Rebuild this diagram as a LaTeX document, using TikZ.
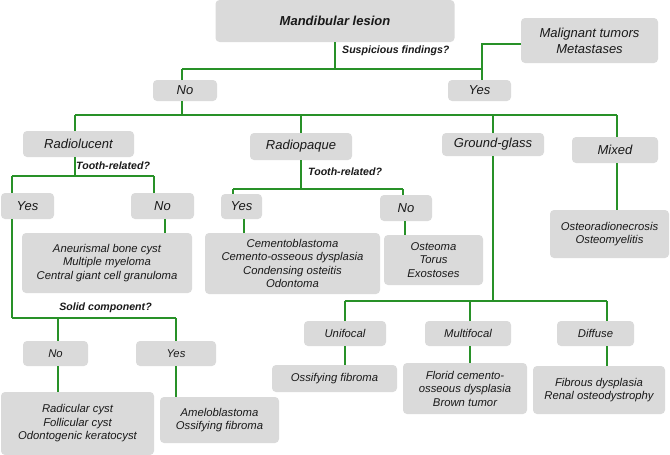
\documentclass[tikz,border=0pt]{standalone}
\usepackage{fontspec}
\setmainfont{Liberation Sans}
\definecolor{boxgray}{RGB}{218,218,218}
\definecolor{lgreen}{RGB}{40,145,40}
\definecolor{textc}{RGB}{25,25,25}
\tikzset{
  box/.style={fill=boxgray, rounded corners=4pt, align=center, inner sep=0pt, text=textc,
    font=\fontsize{11.3}{13.5}\selectfont\itshape},
  big/.style={font=\fontsize{13}{16}\selectfont\itshape},
  lab/.style={inner sep=0pt, anchor=west, text=textc, font=\fontsize{10.6}{12}\selectfont\bfseries\itshape},
  ln/.style={draw=lgreen, line width=1.4pt}
}
\begin{document}
\begin{tikzpicture}[x=1pt,y=-1pt]
\useasboundingbox (0,0) rectangle (670,455);
% top
\node[box, font=\fontsize{13}{16}\selectfont\bfseries\itshape, minimum width=239pt, minimum height=42pt] (ml) at (335,21) {Mandibular lesion};
\node[box, big, minimum width=137pt, minimum height=45pt] (mal) at (589.5,40.5) {Malignant tumors\\Metastases};
\node[box, big, minimum width=63pt, minimum height=21pt] (yesT) at (479.5,90.5) {Yes};
\node[box, big, minimum width=64pt, minimum height=21pt] (noT) at (185,90.5) {No};
% level 2
\node[box, big, minimum width=111pt, minimum height=26pt] (rl) at (78.5,144) {Radiolucent};
\node[box, big, minimum width=102pt, minimum height=27pt] (ro) at (301,146.5) {Radiopaque};
\node[box, big, minimum width=102pt, minimum height=23pt] (gg) at (493,144.5) {Ground-glass};
\node[box, big, minimum width=86pt, minimum height=26pt] (mx) at (615,150) {Mixed};
\node[box, minimum width=119pt, minimum height=48pt] (ost) at (609.5,234) {Osteoradionecrosis\\Osteomyelitis};
% radiolucent branch
\node[box, big, minimum width=53pt, minimum height=26pt] (y1) at (27.5,206) {Yes};
\node[box, big, minimum width=63pt, minimum height=26pt] (n1) at (162.5,206) {No};
\node[box, minimum width=170pt, minimum height=60pt] (an) at (107,263) {Aneurismal bone cyst\\Multiple myeloma\\Central giant cell granuloma};
\node[box, minimum width=65pt, minimum height=25pt] (n2) at (55.5,353.5) {No};
\node[box, minimum width=80pt, minimum height=25pt] (y2) at (176,353.5) {Yes};
\node[box, minimum width=153pt, minimum height=63pt] (rc) at (77.5,423.5) {Radicular cyst\\Follicular cyst\\Odontogenic keratocyst};
\node[box, minimum width=119pt, minimum height=46pt] (am) at (219.5,420) {Ameloblastoma\\Ossifying fibroma};
% radiopaque branch
\node[box, big, minimum width=41pt, minimum height=25pt] (y3) at (241.5,206.5) {Yes};
\node[box, big, minimum width=52pt, minimum height=26pt] (n3) at (406,208) {No};
\node[box, minimum width=175pt, minimum height=61pt] (cb) at (292.5,263.5) {Cementoblastoma\\Cemento-osseous dysplasia\\Condensing osteitis\\Odontoma};
\node[box, minimum width=99pt, minimum height=50pt] (os) at (433.5,260) {Osteoma\\Torus\\Exostoses};
% ground-glass branch
\node[box, minimum width=82pt, minimum height=25pt] (uf) at (345,333.5) {Unifocal};
\node[box, minimum width=86pt, minimum height=25pt] (mf) at (468,333.5) {Multifocal};
\node[box, minimum width=77pt, minimum height=25pt] (df) at (595.5,333.5) {Diffuse};
\node[box, minimum width=125pt, minimum height=27pt] (of) at (334.5,378.5) {Ossifying fibroma};
\node[box, minimum width=124pt, minimum height=51pt] (fl) at (465,388.5) {Florid cemento-\\osseous dysplasia\\Brown tumor};
\node[box, minimum width=132pt, minimum height=48pt] (fd) at (599,390) {Fibrous dysplasia\\Renal osteodystrophy};
% labels
\node[lab] (l1) at (342,51) {Suspicious findings?};
\node[lab] (l2) at (76,166) {Tooth-related?};
\node[lab] (l3) at (308,172) {Tooth-related?};
\node[lab, anchor=center] (l4) at (105.5,308) {Solid component?};
% bus coordinates
\coordinate (aL) at (182,69); \coordinate (aM) at (335,69); \coordinate (aR) at (482,69);
\coordinate (bL) at (75,115); \coordinate (bR) at (617,115);
\coordinate (cL) at (12,176); \coordinate (cR) at (154,176);
\coordinate (dL) at (12,318); \coordinate (dM) at (58,318); \coordinate (dR) at (176,318);
\coordinate (eL) at (233,189); \coordinate (eR) at (403,189);
\coordinate (fL) at (345,301); \coordinate (fM) at (470,301); \coordinate (fR) at (607,301);
% connectors
\draw[ln] (ml.south -| aM) -- (aM);
\draw[ln] (aL) -- (aR);
\draw[ln] (mal.west |- 0,44) -| (yesT.north -| aR);
\draw[ln] (aL) -- (noT.north -| aL);
\draw[ln] (noT.south -| aL) -- (aL |- bL);
\draw[ln] (bL) -- (bR);
\draw[ln] (bL) -- (rl.north -| bL);
\draw[ln] (ro.north |- bL) -- (ro.north);
\draw[ln] (gg.north |- bL) -- (gg.north);
\draw[ln] (bR) -- (mx.north -| bR);
\draw[ln] (mx.south -| bR) -- (ost.north -| bR);
% radiolucent
\draw[ln] (rl.south -| bL) -- (bL |- cL);
\draw[ln] (cL) -- (cR);
\draw[ln] (cL) -- (y1.north -| cL);
\draw[ln] (cR) -- (n1.north -| cR);
\draw[ln] (n1.south -| 165,0) -- (an.north -| 165,0);
\draw[ln] (y1.south -| cL) -- (dL);
\draw[ln] (dL) -- (dR);
\draw[ln] (dM) -- (n2.north -| dM);
\draw[ln] (dR) -- (y2.north -| dR);
\draw[ln] (n2.south -| dM) -- (rc.north -| dM);
\draw[ln] (y2.south -| dR) -- (am.north -| dR);
% radiopaque
\draw[ln] (ro.south) -- (ro.south |- eL);
\draw[ln] (eL) -- (eR);
\draw[ln] (eL) -- (y3.north -| eL);
\draw[ln] (eR) -- (n3.north -| eR);
\draw[ln] (y3.south -| 244,0) -- (cb.north -| 244,0);
\draw[ln] (n3.south -| 405,0) -- (os.north -| 405,0);
% ground-glass
\draw[ln] (gg.south) -- (gg.south |- fL);
\draw[ln] (fL) -- (fR);
\draw[ln] (fL) -- (uf.north -| fL);
\draw[ln] (fM) -- (mf.north -| fM);
\draw[ln] (fR) -- (df.north -| fR);
\draw[ln] (uf.south -| fL) -- (of.north -| fL);
\draw[ln] (mf.south -| fM) -- (fl.north -| fM);
\draw[ln] (df.south -| fR) -- (fd.north -| fR);
\end{tikzpicture}
\end{document}
